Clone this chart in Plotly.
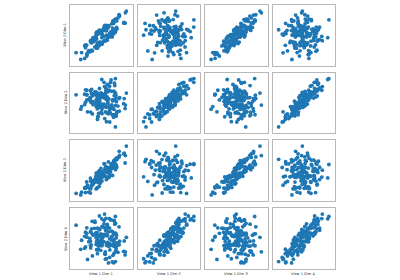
import plotly.graph_objects as go

view1_dim1 = [0.73,-1.61,0.37,2.32,-0.58,0.57,-1.81,0.71,1.15,-0.56,-0.47,0.96,-1.72,1.72,-0.09,
0.54,-0.42,1.27,0.22,-0.17,-1.59,0.74,0.62,-0.34,0.73,-1.19,1.16,-0.03,0.3,-2.21,
1.27,-0.96,0.8,1.76,-1.21,0.42,0.35,-0.52,1.35,0.41,0.29,-0.95,-0.03,1.5,-0.06,
-1.22,-0.01,0.31,0.04,2.17,-0.76,1.05,-1.72,-0.3,1.19,-0.04,2.35,-0.8,-0.27,1.01,
0.19,1.08,-1.59,0.15,0.5,0.42,1.33,-1.02,-0.27,1.21,-1.14,1.34,-2.12,0.04,1.25,
-1.22,0.83,1.46,-0.59,-0.49,-0.5,2.23,0.17,0.42,-1.28,0.75,0.95,-1.04,0.76,-0.62,
1.41,-0.54,-0.18,1.17,-0.64,1.11,-1.58,0.17,0.3,1.23,-0.3,-0.51,0.24,-1.1,0.43,
2.45,-0.41,0.57,1.4,-1.39,0.17,-0.12,-0.15,1.34,-0.24,0.4,-0.28,1.41,-0.77,-0.6,
0.98,-2.68,1.04,-0.56,1.33,-0.23,-0.39,1.21,-1.12,1.0,1.37,-0.04,0.89,-1.81,0.54,
-0.67,0.67,0.66,-1.52,1.7,-0.05,0.34,-0.33,1.44,-0.35,-0.48,0.3,-0.64,0.5,1.59]

view2_dim1 = [0.13,-1.05,0.74,1.54,0.23,0.98,-2.61,-0.02,1.51,-1.14,0.27,0.57,-1.01,2.49,-0.86,
1.11,-1.07,1.96,-0.52,0.52,-2.15,0.1,1.24,-0.78,0.27,-0.65,1.78,-0.8,0.87,-2.73,
0.82,-0.16,0.2,2.38,-1.77,0.13,1.16,-1.4,2.02,-0.39,0.67,-0.65,0.32,0.88,-0.17,
-1.71,0.73,1.0,-0.68,1.56,-0.29,0.32,-1.34,0.72,0.71,-0.95,2.76,-0.57,0.55,0.31,
-0.5,1.77,-2.33,0.71,-0.46,0.86,1.93,-1.72,0.39,0.73,-0.45,0.49,-1.92,0.7,0.6,
-0.55,-0.05,1.8,-0.32,-1.13,0.46,1.64,-0.01,1.28,-1.82,0.26,1.47,-0.58,0.33,0.33,
0.82,-0.97,0.49,0.3,-0.1,1.81,-2.15,0.92,-0.56,0.79,0.34,-1.0,1.27,-1.63,0.66,
2.97,-1.1,-0.14,1.95,-1.68,1.08,-0.77,0.6,0.69,-0.7,1.15,-0.72,2.01,-1.26,0.48,
0.1,-1.93,0.96,0.24,0.77,-0.76,0.61,0.63,-0.78,-0.08,1.83,0.2,0.55,-1.11,-0.01,
0.02,1.19,-0.1,-1.95,2.53,-0.77,1.08,-1.12,1.04,0.6,-0.75,1.08,-1.39,-0.07,2.16]

view1_dim3 = [0.91,-1.28,-0.05,1.97,-0.38,1.45,-2.34,0.43,0.58,-0.61,0.38,0.14,-1.37,2.01,0.27,
0.88,-0.61,0.94,0.05,0.8,-2.03,1.05,0.89,-1.03,-0.1,-0.88,2.1,-0.27,0.09,-2.79,
1.62,-0.5,0.03,1.6,-0.99,-0.5,1.06,-0.76,1.17,0.05,1.07,-1.2,0.79,1.24,-0.98,
-1.34,-0.24,1.17,0.39,1.75,-1.08,0.62,-0.83,-0.13,0.5,-0.47,2.9,-1.38,0.71,0.63,
-0.63,1.4,-1.85,1.14,-0.32,-0.07,2.14,-0.9,0.13,0.22,-0.24,1.17,-2.6,0.46,0.76,
-0.74,0.98,1.09,-0.05,-1.57,0.3,2.01,-0.64,0.97,-0.97,0.12,0.64,-0.1,0.61,0.04,
1.6,-1.35,0.71,0.99,-0.93,2.18,-2.36,0.4,-0.16,0.65,0.26,-0.44,0.68,-0.93,0.03,
2.74,-0.19,0.25,0.98,-1.2,0.58,0.13,0.03,1.7,-1.18,0.59,-0.15,1.36,-1.12,0.36,
0.6,-2.37,0.36,0.35,1.13,0.0,0.32,0.58,-0.65,0.41,2.22,-0.6,0.33,-1.22,-0.15,
-0.88,1.64,0.49,-2.13,2.27,0.2,0.12,-0.77,1.89,-0.21,-1.25,1.21,-1.08,0.98,1.76]

view2_dim3 = [0.36,-0.84,0.51,1.31,-0.71,0.73,-1.52,-0.29,1.46,-0.28,-0.11,0.79,-2.05,2.64,-0.14,
0.35,-0.92,1.65,0.5,0.19,-1.43,0.56,1.43,-0.4,-0.16,-1.62,1.53,0.02,0.64,-2.32,
1.01,-1.13,0.64,2.19,-0.74,-0.26,0.49,-0.32,1.62,-0.57,0.44,-0.73,-0.2,1.75,-0.38,
-2.1,0.29,0.51,0.12,2.36,-0.55,-0.1,-1.57,0.45,1.58,-0.74,2.16,-0.88,0.17,1.21,
-0.16,0.81,-1.42,0.36,0.22,0.51,1.14,-0.78,-0.49,1.08,-0.69,1.63,-2.01,-0.15,0.94,
-0.4,0.34,0.88,0.17,-0.82,-0.19,2.44,-0.09,0.25,-1.58,0.8,1.23,-1.09,0.0,0.16,
1.08,-1.54,0.14,1.38,-0.25,1.26,-1.41,-0.11,-0.23,1.52,-0.19,-1.48,1.21,-1.2,0.79,
3.24,-0.67,-0.38,1.7,-1.99,1.23,-0.33,0.69,0.55,-0.65,0.87,-0.86,1.85,-0.62,-0.24,
-0.09,-2.15,1.22,-0.13,1.73,-1.0,-0.01,1.55,-1.34,0.69,1.14,-0.23,1.18,-1.54,0.7,
-0.21,0.79,0.19,-1.21,2.0,-0.28,0.83,-1.37,0.8,0.37,-0.26,0.74,-1.63,0.52,1.95]

view1_dim2 = [-0.62,0.69,1.04,-0.95,0.6,-0.53,1.25,1.69,-2.53,0.3,-0.28,0.6,1.23,-1.31,0.11,
0.52,-1.3,0.43,1.7,-0.29,0.5,-0.04,-1.66,0.17,1.55,-0.43,0.0,-0.01,0.74,-1.78,
1.86,-0.54,-0.43,0.89,0.95,-2.68,0.72,0.07,-0.23,0.9,-0.97,0.6,0.42,-0.19,2.33,
-0.73,0.9,-1.45,0.64,-1.02,0.73,0.94,0.1,2.03,-1.88,0.66,-0.53,0.4,0.16,-2.04,
0.96,-0.52,-0.11,0.05,1.03,-0.5,2.61,-2.24,0.67,0.53,-0.68,0.74,0.4,0.61,-0.96,
0.6,1.55,-0.39,-0.31,0.27,-1.02,-0.36,1.0,-0.16,-0.05,-1.84,1.36,1.18,-0.33,-0.27,
-1.36,1.01,0.25,0.88,0.0,-1.12,1.13,-0.07,-0.2,1.32,0.39,0.05,-2.04,1.18,0.36,
0.7,-0.17,0.56,-0.75,0.13,2.6,-0.48,0.48,-1.05,-0.09,1.22,-1.2,-0.07,1.68,-0.35,
-0.98,1.84,0.09,0.47,-2.43,0.8,-1.58,0.33,1.49,-0.51,0.05,-0.49,2.22,0.18,-0.04,
1.41,-0.88,-0.05,-1.53,0.62,0.45,1.16,-0.17,-0.52,0.89,-0.92,0.04,-0.17,0.91,-0.13]

view2_dim2 = [-0.96,0.88,1.37,-0.78,-0.37,-0.09,0.94,1.42,-1.84,1.13,-0.59,-0.34,1.47,-1.1,0.69,
0.17,-1.76,1.2,1.86,-0.51,1.42,-0.75,-1.42,0.35,1.91,-1.21,0.25,-0.83,1.0,-0.86,
1.98,-0.31,-1.29,0.54,1.37,-2.36,1.15,-0.82,-0.4,1.59,-0.54,0.05,1.0,-1.17,2.71,
0.09,0.58,-1.19,-0.35,-0.2,1.22,0.13,-0.02,1.63,-0.89,-0.24,-0.36,0.88,-0.26,-1.55,
0.48,-0.67,0.26,-0.49,2.11,-1.3,2.83,-1.43,0.12,0.22,-0.05,1.05,-0.54,0.76,-1.62,
0.41,2.36,-1.28,-0.13,0.56,-2.09,0.42,0.77,0.3,0.53,-2.4,1.29,0.74,-0.5,0.13,
-1.65,0.79,0.57,1.3,-0.19,-1.53,0.88,-0.25,-0.56,2.26,0.2,-0.08,-1.99,1.53,-0.6,
1.08,-0.48,1.24,-1.66,0.33,2.37,-1.19,1.11,-1.52,0.5,0.37,-0.64,0.49,1.09,0.34,
-0.77,0.87,0.26,1.08,-3.0,0.55,-1.36,0.77,1.04,-0.65,0.82,-1.4,2.66,-0.3,-0.21,
1.23,-1.21,0.37,-1.18,0.42,-0.43,1.69,0.11,0.05,0.94,-1.77,0.86,-0.52,0.62,-0.49]

view1_dim4 = [-1.15,0.38,1.75,-0.5,-0.01,0.07,0.76,2.23,-1.9,0.24,-1.02,0.03,1.52,-0.76,0.58,
-0.09,-1.93,1.04,2.29,-0.04,0.74,-0.61,-1.22,0.62,0.93,-1.06,0.47,-1.0,1.25,-1.18,
1.1,-0.01,-1.09,0.62,1.56,-2.15,0.0,-0.67,0.35,1.98,-1.24,-0.14,0.92,-0.73,2.91,
-0.26,0.31,-1.02,-0.14,-0.48,1.31,-0.06,0.22,1.41,-1.02,0.21,-0.07,0.99,-0.45,-1.86,
1.3,-1.16,-0.32,0.27,1.78,-0.99,3.04,-1.69,-0.05,-0.08,0.0,1.33,-0.59,0.0,-0.84,
0.08,1.36,-0.96,0.08,0.95,-1.94,0.59,0.49,-0.23,0.82,-2.29,0.32,1.71,-0.6,0.49,
-0.86,0.53,-0.38,1.6,-0.79,-0.47,0.67,0.59,-1.35,1.85,0.67,-0.66,-1.55,1.68,-0.24,
0.01,0.05,1.42,-1.23,0.73,1.6,-0.81,1.45,-1.74,0.19,0.14,-0.83,0.78,1.36,0.5,
-0.31,0.99,-0.21,1.39,-2.7,0.32,-0.87,-0.27,0.4,0.07,1.04,-0.96,1.67,-0.28,0.15,
0.86,-0.44,0.51,-2.19,0.29,-0.27,1.98,-0.89,0.36,1.22,-1.41,0.69,-0.85,1.54,-0.54]

view2_dim4 = [-0.39,0.23,2.06,-1.52,0.32,-0.65,0.3,2.04,-2.28,0.67,-0.05,0.28,0.7,-0.53,0.17,
-0.28,-0.96,0.6,2.48,-1.07,1.13,0.06,-2.3,1.02,1.11,-0.83,0.55,-0.48,0.38,-0.97,
1.49,0.43,-0.6,-0.18,0.76,-1.89,0.42,-0.44,0.62,1.11,-1.45,0.46,1.23,-0.35,2.01,
-0.6,1.27,-1.93,0.21,-1.16,1.66,0.73,-0.72,2.29,-1.37,0.45,-1.21,1.08,0.4,-2.2,
1.15,-1.55,0.6,-0.22,1.47,-0.34,2.24,-1.61,0.98,-0.32,-0.54,1.57,-0.08,0.33,-0.67,
-0.18,1.93,-0.61,-1.0,1.1,-1.39,-0.15,1.52,-0.56,0.09,-1.76,0.8,1.77,-1.03,0.36,
-1.13,0.1,-0.14,1.85,-0.48,-0.62,0.23,0.5,-1.21,1.8,0.95,-0.52,-1.39,1.04,0.48,
0.2,0.27,1.16,-0.86,-0.23,1.84,-0.19,0.53,-1.18,-0.58,0.83,-0.4,0.15,1.79,-0.21,
-0.08,1.39,-0.5,0.65,-2.17,-0.17,-0.62,-0.02,0.64,0.3,0.55,-0.62,1.91,-0.87,0.36,
0.63,-0.65,0.74,-1.96,1.23,-0.02,0.89,-0.62,0.41,0.36,-1.03,0.47,0.19,1.39,-1.26]

view1 = [view1_dim1, view1_dim2, view1_dim3, view1_dim4]
view2 = [view2_dim1, view2_dim2, view2_dim3, view2_dim4]
x_labels = ["View 1 Dim 1", "View 1 Dim 2", "View 1 Dim 3", "View 1 Dim 4"]
y_labels = ["View 2 Dim 1", "View 2 Dim 2", "View 2 Dim 3", "View 2 Dim 4"]

W, H = 400, 280
col_px = [(70, 132.5), (137.5, 200), (205, 267.5), (272.5, 335)]
row_px = [(5, 65.5), (72.5, 133), (140, 201), (208, 269)]

fig = go.Figure()
layout = dict(
    width=W, height=H, margin=dict(l=0, r=0, t=0, b=0),
    paper_bgcolor="white", plot_bgcolor="white", showlegend=False,
)
annotations = []
k = 0
for r in range(4):
    for c in range(4):
        k += 1
        xa = "x" if k == 1 else f"x{k}"
        ya = "y" if k == 1 else f"y{k}"
        fig.add_trace(go.Scatter(
            x=view1[c], y=view2[r], mode="markers",
            marker=dict(color="#1f77b4", size=3.8, line=dict(width=0)),
            xaxis=xa, yaxis=ya, hoverinfo="skip",
        ))
        axis_style = dict(showticklabels=False, ticks="", showgrid=False,
                          zeroline=False, showline=True, mirror=True,
                          linecolor="#b8b8b8", linewidth=1)
        x0, x1 = col_px[c]
        y0, y1 = row_px[r]
        layout["xaxis" if k == 1 else f"xaxis{k}"] = dict(
            domain=[x0 / W, x1 / W], anchor=ya, **axis_style)
        layout["yaxis" if k == 1 else f"yaxis{k}"] = dict(
            domain=[1 - y1 / H, 1 - y0 / H], anchor=xa, **axis_style)

for c in range(4):
    x0, x1 = col_px[c]
    annotations.append(dict(text=x_labels[c], x=(x0 + x1) / 2 / W, y=1 - 274 / H,
                            xref="paper", yref="paper", showarrow=False,
                            font=dict(size=3.6, color="#333", family="DejaVu Sans"),
                            xanchor="center", yanchor="middle"))
for r in range(4):
    y0, y1 = row_px[r]
    annotations.append(dict(text=y_labels[r], x=65.5 / W, y=1 - (y0 + y1) / 2 / H,
                            xref="paper", yref="paper", showarrow=False, textangle=-90,
                            font=dict(size=3.6, color="#333", family="DejaVu Sans"),
                            xanchor="center", yanchor="middle"))
layout["annotations"] = annotations
fig.update_layout(**layout)
fig.write_html("out.html")
